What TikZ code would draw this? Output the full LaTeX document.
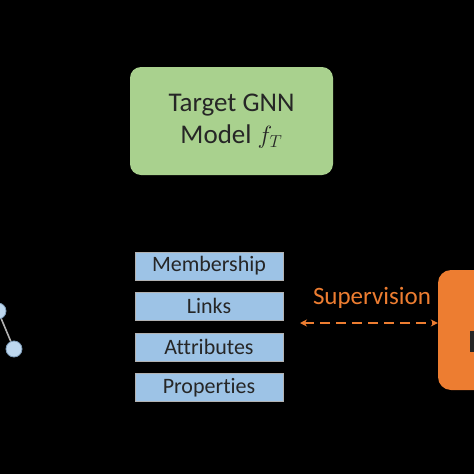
\documentclass[tikz,border=0pt]{standalone}
\usepackage{fontspec}
\setmainfont{Carlito}[Ligatures=NoCommon]
\usepackage{amsmath}
\usepackage{tikz}
\usetikzlibrary{arrows.meta, positioning, calc}
\definecolor{boxgreen}{HTML}{A9D18E}
\definecolor{boxblue}{HTML}{9DC3E6}
\definecolor{nodeblue}{HTML}{BDD7EE}
\definecolor{suporange}{HTML}{ED7D31}
\tikzset{
    infobox/.style={rectangle, draw=gray!60, fill=boxblue, minimum width=148pt, minimum height=28pt, inner sep=0pt, text=black!85, font=\fontsize{22}{24}\selectfont},
    arrow/.style={line width=2pt, <->, >={Stealth[length=7pt,width=7pt]}}
}

\begin{document}
\begin{tikzpicture}[
    x=1pt, y=-1pt,
    modelbox/.style={rectangle, rounded corners=11pt, fill=boxgreen, minimum width=203pt, minimum height=108pt, align=center, text=black!85, font=\fontsize{27}{32}\selectfont},
    attackbox/.style={rectangle, rounded corners=13pt, fill=suporange, minimum width=100pt, minimum height=120pt},
    graphnode/.style={circle, draw=boxblue!80!black, line width=0.8pt, fill=nodeblue, minimum size=16pt, inner sep=0pt}
]
    % background
    \fill[black] (0,0) rectangle (474,474);
    \useasboundingbox (0,0) rectangle (474,474);
    \clip (0,0) rectangle (474,474);

    % Target model
    \node (target) [modelbox] at (231.5,121) {Target GNN\\Model $f_T$};

    % Leaked information
    \node (member) [infobox] at (209,266) {Membership};
    \node (links) [infobox, below=12pt of member] {Links};
    \node (attr) [infobox, below=12pt of links] {Attributes};
    \node (prop) [infobox, below=12pt of attr] {Properties};

    % Attack model (cut off at the edge)
    \node (attack) [attackbox] at (488,330) {};
    \fill[black!85] (470,331) rectangle (476,352);

    % Shadow graph (cut off at the edge)
    \node (ga) [graphnode] at (-2,311) {};
    \node (gb) [graphnode] at (14,349) {};
    \draw [gray!60, line width=1.6pt] (ga) -- (gb);

    % Supervision
    \coordinate (supL) at (300,323);
    \draw [arrow, suporange, dash pattern=on 10pt off 6pt] (supL) -- (supL -| attack.west);
    \node [text=suporange, font=\fontsize{25}{28}\selectfont] at (372,298) {Supervision};

\end{tikzpicture}
\end{document}
